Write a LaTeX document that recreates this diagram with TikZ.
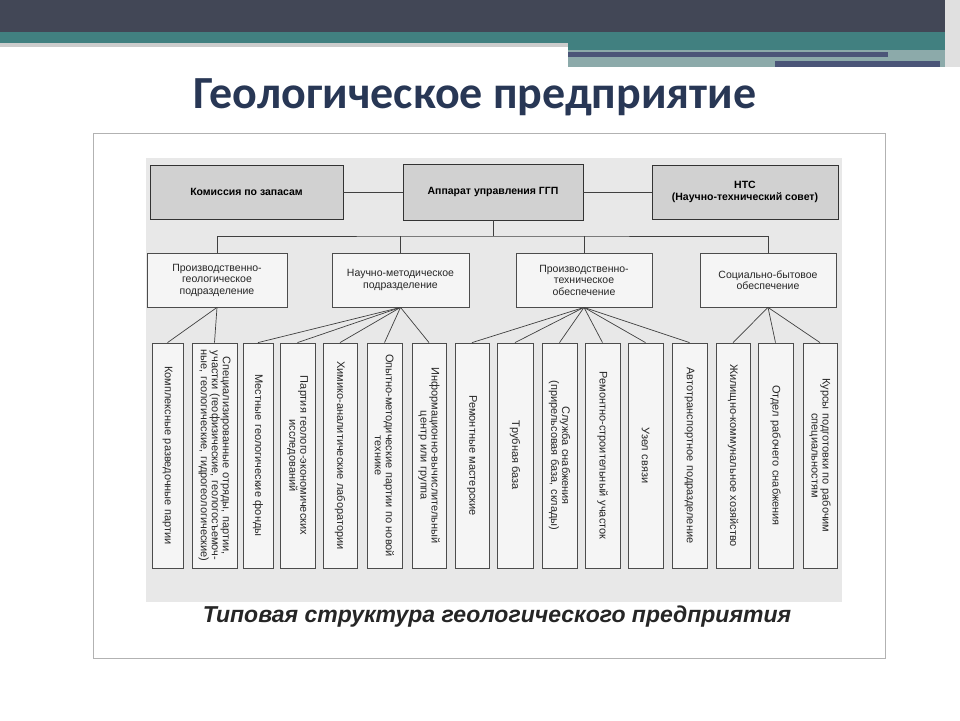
\documentclass[tikz,border=0pt]{standalone}
\usepackage{fontspec}
\setmainfont{Liberation Sans}
\newfontfamily\titlefont{Carlito}
\begin{document}
\begin{tikzpicture}[x=1pt,y=-1pt,
  topbox/.style={draw=black!80,line width=0.9pt,fill=black!18,inner sep=0pt,font=\bfseries\fontsize{10.5}{12.5}\selectfont,align=center},
  midbox/.style={draw=black!70,line width=0.8pt,fill=black!4,inner sep=0pt,font=\fontsize{10.5}{11.5}\selectfont,align=center,text=black!85},
  lowbox/.style={draw=black!70,line width=0.8pt,fill=black!4,inner sep=0pt,minimum height=225pt},
  vtext/.style={rotate=-90,font=\fontsize{11}{11}\selectfont,align=center,text width=218pt,text=black!85},
  conn/.style={draw=black!75,line width=0.7pt}]
\useasboundingbox (0,0) rectangle (960,720);
\fill[white] (0,0) rectangle (960,720);
% header decoration
\fill[fill={rgb,255:red,66;green,71;blue,86}] (0,0) rectangle (960,32);
\fill[fill={rgb,255:red,65;green,128;blue,128}] (0,32) rectangle (960,43);
\fill[fill={rgb,255:red,65;green,128;blue,128}] (568,43) rectangle (945,50);
\fill[fill={rgb,255:red,140;green,170;blue,170}] (568,50) rectangle (945,67);
\fill[fill={rgb,255:red,75;green,85;blue,120}] (568,52) rectangle (888,57);
\fill[fill={rgb,255:red,75;green,85;blue,120}] (775,61) rectangle (940,67);
\fill[black!20] (0,43) rectangle (568,47);
\fill[black!12] (945,0) rectangle (960,67);
\node[font=\titlefont\bfseries\fontsize{46}{48}\selectfont,text={rgb,255:red,40;green,55;blue,85}] (title) at (475,97) {Геологическое предприятие};
% frame
\draw[black!30,line width=1pt,fill=white] (93,133) rectangle (885,658);
\fill[black!9] (146,158) rectangle (842,602);
% top row
\node[topbox,minimum width=193pt,minimum height=54pt] (kom) at (246.5,192) {Комиссия по запасам};
\node[topbox,minimum width=180pt,minimum height=56pt] (app) at (493,192) {Аппарат управления ГГП};
\node[topbox,minimum width=186pt,minimum height=54pt] (nts) at (745,192) {НТС\\(Научно-технический совет)};
\draw[conn] (kom.east) -- (app.west);
\draw[conn] (app.east) -- (nts.west);
% second row
\node[midbox,minimum width=140pt,minimum height=54pt] (p1) at (217,280) {Производственно-\\геологическое\\подразделение};
\node[midbox,minimum width=137pt,minimum height=54pt] (p2) at (400.5,280) {Научно-методическое\\подразделение};
\node[midbox,minimum width=136pt,minimum height=54pt] (p3) at (584,280) {Производственно-\\техническое\\обеспечение};
\node[midbox,minimum width=136pt,minimum height=54pt] (p4) at (768,280) {Социально-бытовое\\обеспечение};
\coordinate (bus) at (493,236);
\draw[conn] (app.south) -- (bus);
\draw[conn] (p1.north) |- (bus) -| (p4.north);
\draw[conn] (p2.north) -- (p2.north |- bus);
\draw[conn] (p3.north) -- (p3.north |- bus);
% bottom row
\foreach \n/\xa/\xb/\t in {
 1/152/183/{Комплексные разведочные партии},
 2/192/237/{Специализированные отряды, партии,\\участки (геофизические, геологосъемоч-\\ные, геологические, гидрогеологические)},
 3/243/273/{Местные геологические фонды},
 4/280/315/{Партия геолого-экономических\\исследований},
 5/323/357/{Химико-аналитические лаборатории},
 6/367/402/{Опытно-методические партии по новой\\технике},
 7/412/446/{Информационно-вычислительный\\центр или группа},
 8/455/489/{Ремонтные мастерские},
 9/497/533/{Трубная база},
 10/542/577/{Служба снабжения\\(прирельсовая база, склады)},
 11/585/620/{Ремонтно-строительный участок},
 12/628/663/{Узел связи},
 13/672/707/{Автотранспортное подразделение},
 14/716/750/{Жилищно-коммунальное хозяйство},
 15/758/793/{Отдел рабочего снабжения},
 16/803/837/{Курсы подготовки по рабочим\\специальностям}}{
  \node[lowbox,minimum width={\xb-\xa}] (b\n) at ({(\xa+\xb)/2},455.5) {};
  \node[vtext] (t\n) at (b\n.center) {\t};
}
\foreach \i in {1,2}{\draw[conn] (p1.south) -- (b\i.north);}
\foreach \i in {3,...,7}{\draw[conn] (p2.south) -- (b\i.north);}
\foreach \i in {8,...,13}{\draw[conn] (p3.south) -- (b\i.north);}
\foreach \i in {14,15,16}{\draw[conn] (p4.south) -- (b\i.north);}
\node[font=\bfseries\itshape\fontsize{23}{25}\selectfont,text=black!85] (cap) at (497,617) {Типовая структура геологического предприятия};
\end{tikzpicture}
\end{document}
